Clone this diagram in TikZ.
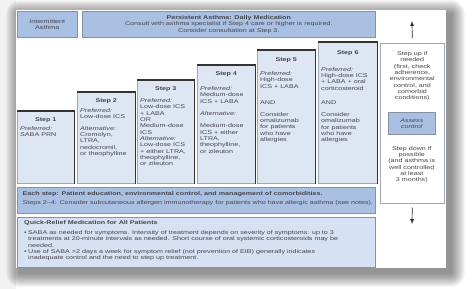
\documentclass[tikz,border=0pt]{standalone}
\usepackage{fontspec}
\setmainfont[FakeStretch=1.3]{Liberation Sans}
\usepackage{tikz}
\usetikzlibrary{arrows, positioning, calc}
\definecolor{bandcolor}{RGB}{170,192,226}
\definecolor{stepcolor}{RGB}{222,230,243}
\definecolor{reliefcolor}{RGB}{214,225,243}
\definecolor{edgecolor}{RGB}{135,145,160}
\definecolor{inkcolor}{RGB}{70,70,78}
\newcommand{\smallfont}{\fontsize{5.5}{6.3}\selectfont}
\tikzset{
  band/.style={draw=edgecolor, fill=#1, line width=0.6pt, anchor=north west,
               inner sep=0pt, text=inkcolor, font=\smallfont, align=center},
  band/.default=bandcolor,
  stepbox/.style={draw=edgecolor!80, fill=stepcolor, line width=0.5pt,
                  anchor=north west, inner sep=0pt},
  stepedge/.style={line width=1.1pt, draw=black!80},
  steptitle/.style={font=\smallfont\bfseries, text=inkcolor, inner sep=0pt},
  steptext/.style={font=\smallfont, align=left, inner sep=0pt, text=inkcolor},
  sidetext/.style={font=\smallfont, align=center, inner sep=0pt, text=inkcolor},
  arrow/.style={-latex, line width=0.7pt, draw=black!85},
}

\begin{document}
\begin{tikzpicture}[x=1pt, y=-1pt]
  \useasboundingbox (0,0) rectangle (474,289);
  \fill[white] (0,0) rectangle (474,289);
  \fill[black!5] (0,0) rectangle (16,289);

  % Card and its shadow
  \foreach \i in {1,...,14}
    \fill[black, opacity=0.035, rounded corners=\i pt]
      (16-\i+4, 10-\i+4) rectangle (446+\i+5, 268+\i+5);
  \fill[white] (16,10) rectangle (446,268);

  % Header row
  \node[band, minimum width=60pt, minimum height=26pt] (ia) at (17,11)
    {Intermittent\\Asthma};
  \node[band, minimum width=293pt, minimum height=26pt] (pa) at (82,11)
    {\textbf{Persistent Asthma: Daily Medication}\\[0.5pt]
     Consult with asthma specialist if Step 4 care or higher is required.\\
     Consider consultation at Step 3.};

  % Steps
  \node[stepbox, minimum width=57pt, minimum height=72pt] (s1) at (17,111) {};
  \node[stepbox, minimum width=58pt, minimum height=91pt] (s2) at (77,92) {};
  \node[stepbox, minimum width=57pt, minimum height=103pt] (s3) at (137,80) {};
  \node[stepbox, minimum width=58pt, minimum height=118pt] (s4) at (197,65) {};
  \node[stepbox, minimum width=58pt, minimum height=133pt] (s5) at (257,50) {};
  \node[stepbox, minimum width=59pt, minimum height=141pt] (s6) at (318,42) {};
  \foreach \s in {s1,s2,s3,s4,s5,s6}
    \draw[stepedge] (\s.north west) -- (\s.north east) -- (\s.south east);

  \node[steptitle, below=6pt of s1.north] (t1) {Step 1};
  \node[steptitle, below=6pt of s2.north] (t2) {Step 2};
  \node[steptitle, below=6pt of s3.north] (t3) {Step 3};
  \node[steptitle, below=6pt of s4.north] (t4) {Step 4};
  \node[steptitle, below=7pt of s5.north] (t5) {Step 5};
  \node[steptitle, below=8.5pt of s6.north] (t6) {Step 6};

  \node[steptext, below right=15.5pt and 3pt of s1.north west] (c1)
    {\textit{Preferred:}\\SABA PRN};
  \node[steptext, below right=16.5pt and 3pt of s2.north west] (c2)
    {\textit{Preferred:}\\Low-dose ICS\\[5pt]
     \textit{Alternative:}\\Cromolyn,\\LTRA,\\nedocromil,\\or theophylline};
  \node[steptext, below right=18.5pt and 3pt of s3.north west] (c3)
    {\textit{Preferred:}\\Low-dose ICS\\+ LABA\\OR\\Medium-dose\\ICS\\
     \textit{Alternative:}\\Low-dose ICS\\+ either LTRA,\\theophylline,\\or zileuton};
  \node[steptext, below right=21.5pt and 3pt of s4.north west] (c4)
    {\textit{Preferred:}\\Medium-dose\\ICS + LABA\\[6pt]
     \textit{Alternative:}\\[6pt]Medium-dose\\ICS + either\\LTRA,\\theophylline,\\or zileuton};
  \node[steptext, below right=21.5pt and 3pt of s5.north west] (c5)
    {\textit{Preferred:}\\High-dose\\ICS + LABA\\[9.5pt]
     AND\\[6pt]Consider\\omalizumab\\for patients\\who have\\allergies};
  \node[steptext, below right=25pt and 3pt of s6.north west] (c6)
    {\textit{Preferred:}\\High-dose ICS\\+ LABA + oral\\corticosteroid\\[8pt]
     AND\\[6pt]Consider\\omalizumab\\for patients\\who have\\allergies};

  % Right column
  \node[stepbox, fill=white, minimum width=64pt, minimum height=160pt] (rc) at (380,43) {};
  \node[sidetext, below=8.5pt of rc.north] (up)
    {Step up if\\needed\\(first, check\\adherence,\\environmental\\control, and\\comorbid\\conditions)};
  \node[band, minimum width=47pt, minimum height=22pt] (ac) at (388,112)
    {\textit{Assess}\\\textit{control}};
  \node[sidetext, below=11.5pt of ac.south] (down)
    {Step down if\\possible\\(and asthma is\\well controlled\\at least\\3 months)};
  \coordinate (uptip) at (412,21);
  \coordinate (downtip) at (412,224);
  \draw[arrow] ([yshift=5pt]rc.north) -- (uptip);
  \draw[arrow] ([yshift=-4pt]rc.south) -- (downtip);

  % Bottom bands
  \node[band, minimum width=358pt, minimum height=26pt] (es) at (17,187) {};
  \node[steptext, below right=4pt and 5.5pt of es.north west] (est)
    {\textbf{Each step: Patient education, environmental control, and management of comorbidities.}\\[3.5pt]
     Steps 2--4: Consider subcutaneous allergen immunotherapy for patients who have allergic asthma (see notes).};
  \node[band=reliefcolor, minimum width=358pt, minimum height=50pt] (qr) at (17,217) {};
  \node[steptext, below right=3.5pt and 7pt of qr.north west] (qrt)
    {\textbf{Quick-Relief Medication for All Patients}\\[3.5pt]
     \makebox[4pt][l]{•}SABA as needed for symptoms. Intensity of treatment depends on severity of symptoms: up to 3\\
     \hspace*{4pt}treatments at 20-minute intervals as needed. Short course of oral systemic corticosteroids may be\\
     \hspace*{4pt}needed.\\
     \makebox[4pt][l]{•}Use of SABA >2 days a week for symptom relief (not prevention of EIB) generally indicates\\
     \hspace*{4pt}inadequate control and the need to step up treatment.};
\end{tikzpicture}
\end{document}
